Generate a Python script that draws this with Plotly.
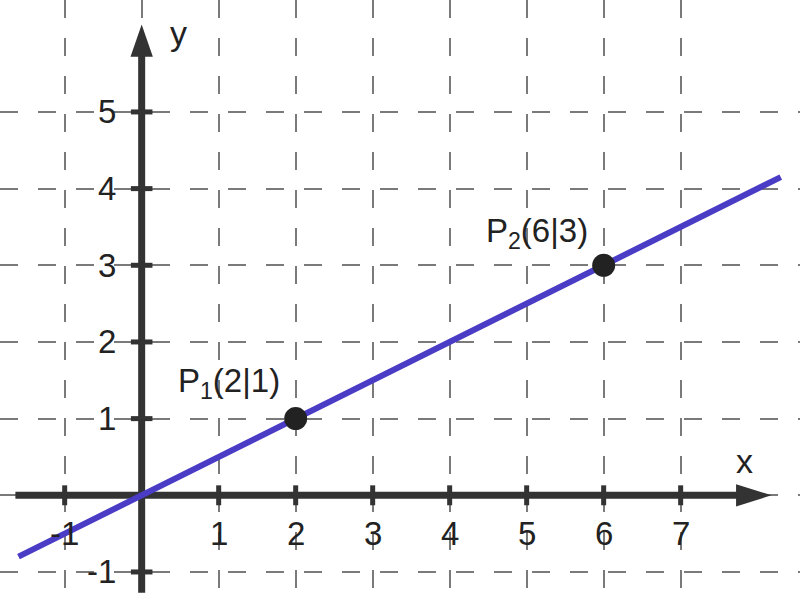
import plotly.graph_objects as go

# line through the two points
line_x = [-1.6, 8.3]
line_y = [-0.8, 4.15]

# marked points
point_x = [2, 6]
point_y = [1, 3]
point_labels = ["P<sub>1</sub>(2|1)", "P<sub>2</sub>(6|3)"]
label_x = [1.14, 5.14]
label_y = [1.46, 3.42]

# ticks
x_ticks = [-1, 1, 2, 3, 4, 5, 6, 7]
y_ticks = [-1, 1, 2, 3, 4, 5]
x_grid = [-1, 0, 1, 2, 3, 4, 5, 6, 7]
y_grid = [-1, 0, 1, 2, 3, 4, 5]

AXIS = "#333333"
TEXT = "#222222"
FONT = "Liberation Sans, Arial, sans-serif"

fig = go.Figure()

fig.add_trace(go.Scatter(x=line_x, y=line_y, mode="lines",
                         line=dict(color="#4b3cc6", width=6), hoverinfo="skip"))
fig.add_trace(go.Scatter(x=point_x, y=point_y, mode="markers",
                         marker=dict(size=23, color="#222222"), hoverinfo="skip"))

shapes = []
# axes
shapes.append(dict(type="line", x0=-1.64, y0=0, x1=7.8, y1=0,
                   line=dict(color=AXIS, width=7), layer="between"))
shapes.append(dict(type="line", x0=0, y0=-1.27, x1=0, y1=5.8,
                   line=dict(color=AXIS, width=7), layer="between"))
# arrow heads
shapes.append(dict(type="path", path="M 7.72,-0.145 L 8.18,0 L 7.72,0.145 Z",
                   fillcolor=AXIS, line=dict(width=0), layer="between"))
shapes.append(dict(type="path", path="M -0.145,5.72 L 0,6.14 L 0.145,5.72 Z",
                   fillcolor=AXIS, line=dict(width=0), layer="between"))
# tick marks
for t in x_ticks:
    shapes.append(dict(type="line", x0=t, x1=t, y0=-0.13, y1=0.13,
                       line=dict(color=AXIS, width=5), layer="between"))
for t in y_ticks:
    shapes.append(dict(type="line", y0=t, y1=t, x0=-0.14, x1=0.14,
                       line=dict(color=AXIS, width=5), layer="between"))

annotations = []
for t in x_ticks:
    annotations.append(dict(x=t, y=-0.5, text=str(t), showarrow=False,
                            font=dict(size=33, color=TEXT, family=FONT)))
for t in y_ticks:
    annotations.append(dict(x=-0.31, y=t, text=str(t), showarrow=False, xanchor="right",
                            font=dict(size=33, color=TEXT, family=FONT)))
annotations.append(dict(x=7.83, y=0.45, text="x", showarrow=False,
                        font=dict(size=34, color=TEXT, family=FONT)))
annotations.append(dict(x=0.48, y=6.03, text="y", showarrow=False,
                        font=dict(size=34, color=TEXT, family=FONT)))
for lx, ly, txt in zip(label_x, label_y, point_labels):
    annotations.append(dict(x=lx, y=ly, text=txt, showarrow=False,
                            font=dict(size=33, color=TEXT, family=FONT)))

grid = dict(showgrid=True, gridcolor="#7a7a7a", gridwidth=2, griddash="18px,20px",
            zeroline=False, showticklabels=False, ticks="", showline=False)

fig.update_layout(
    width=800, height=608,
    margin=dict(l=0, r=0, t=0, b=0),
    paper_bgcolor="white", plot_bgcolor="white",
    showlegend=False,
    xaxis=dict(range=[-1.84, 8.55], tickvals=x_grid, **grid),
    yaxis=dict(range=[-1.47, 6.46], tickvals=y_grid, **grid),
    shapes=shapes,
    annotations=annotations,
)

fig.write_html("out.html", config={"staticPlot": True},
               post_script="document.body.style.margin='0';")
